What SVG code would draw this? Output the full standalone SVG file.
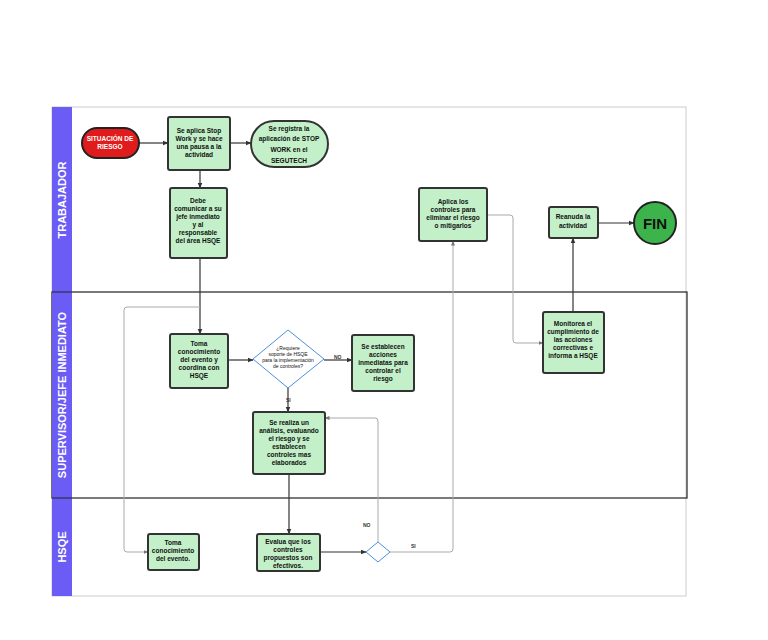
<svg xmlns="http://www.w3.org/2000/svg" width="768" height="640" viewBox="0 0 768 640">
<style>
.b{fill:#c3f0c8;stroke:#333;stroke-width:2}
.t{font-family:"Liberation Sans",Arial,sans-serif;font-size:6.5px;font-weight:bold;fill:#111;text-anchor:middle}
.l{font-family:"Liberation Sans",Arial,sans-serif;font-size:11px;font-weight:bold;fill:#fff;text-anchor:middle}
.c{fill:none;stroke:#333;stroke-width:1.2}
.g{fill:none;stroke:#aaa;stroke-width:1}
.s{font-family:"Liberation Sans",Arial,sans-serif;font-size:5px;font-weight:bold;fill:#333}
</style>
<defs>
<marker id="a" viewBox="0 0 10 10" refX="9" refY="5" markerWidth="5" markerHeight="5" orient="auto"><path d="M0,1L10,5L0,9z" fill="#333"/></marker>
<marker id="ag" viewBox="0 0 10 10" refX="9" refY="5" markerWidth="5" markerHeight="5" orient="auto"><path d="M0,1L10,5L0,9z" fill="#777"/></marker>
</defs>
<rect width="768" height="640" fill="#fff"/>
<g id="lanes">
<rect x="52" y="107" width="634" height="489" fill="#fff" stroke="#ccc"/>
<rect x="52" y="292" width="635" height="206" fill="none" stroke="#222" stroke-width="1.2"/>
<rect x="52" y="107" width="20" height="489" fill="#6b5cf6"/>
<line x1="52" y1="292" x2="72" y2="292" stroke="#222"/>
<line x1="52" y1="498" x2="72" y2="498" stroke="#222"/>
<text class="l" transform="translate(66,200) rotate(-90)">TRABAJADOR</text>
<text class="l" transform="translate(66,395) rotate(-90)">SUPERVISOR/JEFE INMEDIATO</text>
<text class="l" transform="translate(66,547) rotate(-90)">HSQE</text>
</g>
<g id="connectors">
<path class="c" d="M139,143H168" marker-end="url(#a)"/>
<path class="c" d="M230,143H251" marker-end="url(#a)"/>
<path class="c" d="M200,170V188" marker-end="url(#a)"/>
<path class="c" d="M200,258V334" marker-end="url(#a)"/>
<path class="c" d="M228,360H253" marker-end="url(#a)"/>
<path class="c" d="M324,360H352" marker-end="url(#a)"/>
<text class="s" x="334" y="359">NO</text>
<path class="c" d="M288,387V412" marker-end="url(#a)"/>
<text class="s" x="286" y="402">SI</text>
<path class="c" d="M289,474V534" marker-end="url(#a)"/>
<path class="c" d="M320,552H366" marker-end="url(#a)"/>
<path class="g" d="M378,542V421Q378,418 375,418H325" marker-end="url(#ag)"/>
<text class="s" x="363" y="527">NO</text>
<path class="g" d="M390,552H450Q453,552 453,549V241" marker-end="url(#ag)"/>
<text class="s" x="411" y="548">SI</text>
<path class="g" d="M487,215H510Q513,215 513,218V340Q513,343 516,343H543" marker-end="url(#ag)"/>
<path class="c" d="M573,312V238" marker-end="url(#a)"/>
<path class="c" d="M598,223H634" marker-end="url(#a)"/>
<path class="g" d="M200,307H127Q124,307 124,310V549Q124,552 127,552H148" marker-end="url(#ag)"/>
</g>
<g id="n1"><rect x="82" y="128" width="57" height="30" rx="15" fill="#e01b1b" stroke="#222" stroke-width="2"/>
<text class="t" style="fill:#fff" x="110" y="141">SITUACIÓN DE</text><text class="t" style="fill:#fff" x="110" y="149">RIESGO</text></g>
<g id="n2"><rect class="b" x="168" y="117" width="62" height="53" rx="2"/>
<text class="t" x="199" y="133">Se aplica Stop</text><text class="t" x="199" y="141">Work y se hace</text><text class="t" x="199" y="149">una pausa a la</text><text class="t" x="199" y="157">actividad</text></g>
<g id="n3"><rect class="b" x="251" y="121" width="77" height="46" rx="23"/>
<text class="t" x="289" y="131">Se registra la</text><text class="t" x="289" y="141">aplicación de STOP</text><text class="t" x="289" y="152">WORK en el</text><text class="t" x="289" y="163">SEGUTECH</text></g>
<g id="n4"><rect class="b" x="170" y="188" width="57" height="70" rx="2"/>
<text class="t" x="198" y="203">Debe</text><text class="t" x="198" y="211">comunicar a su</text><text class="t" x="198" y="219">jefe inmediato</text><text class="t" x="198" y="227">y al</text><text class="t" x="198" y="235">responsable</text><text class="t" x="198" y="243">del área HSQE</text></g>
<g id="n5"><rect class="b" x="170" y="334" width="58" height="54" rx="2"/>
<text class="t" x="199" y="346">Toma</text><text class="t" x="199" y="354">conocimiento</text><text class="t" x="199" y="362">del evento y</text><text class="t" x="199" y="370">coordina con</text><text class="t" x="199" y="378">HSQE</text></g>
<g id="n6"><path d="M288,330L324,359L288,388L253,359Z" fill="#fff" stroke="#4a90e2" stroke-width="1"/>
<text class="t" style="font-size:5px;font-weight:normal" x="288" y="350">¿Requiere</text><text class="t" style="font-size:5px;font-weight:normal" x="288" y="356">soporte de HSQE</text><text class="t" style="font-size:5px;font-weight:normal" x="288" y="362">para la implementación</text><text class="t" style="font-size:5px;font-weight:normal" x="288" y="368">de controles?</text></g>
<g id="n7"><rect class="b" x="352" y="335" width="62" height="56" rx="2"/>
<text class="t" x="383" y="349">Se establecen</text><text class="t" x="383" y="357">acciones</text><text class="t" x="383" y="365">inmediatas para</text><text class="t" x="383" y="373">controlar el</text><text class="t" x="383" y="381">riesgo</text></g>
<g id="n8"><rect class="b" x="253" y="412" width="72" height="62" rx="2"/>
<text class="t" x="289" y="425">Se realiza un</text><text class="t" x="289" y="433">análisis, evaluando</text><text class="t" x="289" y="441">el riesgo y se</text><text class="t" x="289" y="449">establecen</text><text class="t" x="289" y="457">controles mas</text><text class="t" x="289" y="465">elaborados</text></g>
<g id="n9"><rect class="b" x="419" y="188" width="68" height="53" rx="2"/>
<text class="t" x="453" y="204">Aplica los</text><text class="t" x="453" y="212">controles para</text><text class="t" x="453" y="220">eliminar el riesgo</text><text class="t" x="453" y="228">o mitigarlos</text></g>
<g id="n10"><rect class="b" x="549" y="207" width="49" height="31" rx="2"/>
<text class="t" x="573" y="219">Reanuda la</text><text class="t" x="573" y="228">actividad</text></g>
<g id="n11"><circle cx="655" cy="223" r="21" fill="#3cb44b" stroke="#222" stroke-width="2"/>
<text x="655" y="229" text-anchor="middle" style="font-family:'Liberation Sans',Arial,sans-serif;font-size:15px;font-weight:bold;fill:#111">FIN</text></g>
<g id="n12"><rect class="b" x="543" y="312" width="61" height="61" rx="2"/>
<text class="t" x="573" y="326">Monitorea el</text><text class="t" x="573" y="334">cumplimiento de</text><text class="t" x="573" y="342">las acciones</text><text class="t" x="573" y="350">correctivas e</text><text class="t" x="573" y="358">informa a HSQE</text></g>
<g id="n13"><rect class="b" x="148" y="534" width="51" height="36" rx="2"/>
<text class="t" x="173" y="545">Toma</text><text class="t" x="173" y="553">conocimiento</text><text class="t" x="173" y="561">del evento.</text></g>
<g id="n14"><rect class="b" x="257" y="534" width="63" height="37" rx="2"/>
<text class="t" x="288" y="544">Evalua que los</text><text class="t" x="288" y="552">controles</text><text class="t" x="288" y="560">propuestos son</text><text class="t" x="288" y="568">efectivos.</text></g>
<g id="n15"><path d="M378,542L390,552L378,562L366,552Z" fill="#fff" stroke="#4a90e2" stroke-width="1"/></g>
</svg>
